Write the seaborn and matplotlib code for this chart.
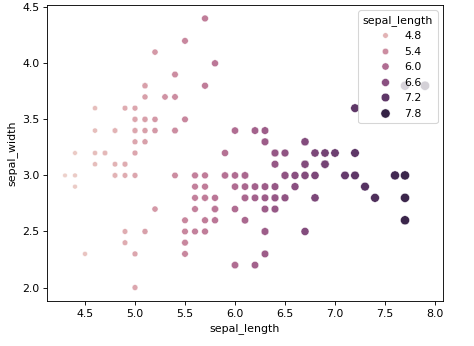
import matplotlib
matplotlib.use("Agg")
import matplotlib.pyplot as plt
import seaborn as sns
import pandas as pd

sepal_length = [
    5.1, 4.9, 4.7, 4.6, 5.0, 5.4, 4.6, 5.0, 4.4, 4.9,
    5.4, 4.8, 4.8, 4.3, 5.8, 5.7, 5.4, 5.1, 5.7, 5.1,
    5.4, 5.1, 4.6, 5.1, 4.8, 5.0, 5.0, 5.2, 5.2, 4.7,
    4.8, 5.4, 5.2, 5.5, 4.9, 5.0, 5.5, 4.9, 4.4, 5.1,
    5.0, 4.5, 4.4, 5.0, 5.1, 4.8, 5.1, 4.6, 5.3, 5.0,
    7.0, 6.4, 6.9, 5.5, 6.5, 5.7, 6.3, 4.9, 6.6, 5.2,
    5.0, 5.9, 6.0, 6.1, 5.6, 6.7, 5.6, 5.8, 6.2, 5.6,
    5.9, 6.1, 6.3, 6.1, 6.4, 6.6, 6.8, 6.7, 6.0, 5.7,
    5.5, 5.5, 5.8, 6.0, 5.4, 6.0, 6.7, 6.3, 5.6, 5.5,
    5.5, 6.1, 5.8, 5.0, 5.6, 5.7, 5.7, 6.2, 5.1, 5.7,
    6.3, 5.8, 7.1, 6.3, 6.5, 7.6, 4.9, 7.3, 6.7, 7.2,
    6.5, 6.4, 6.8, 5.7, 5.8, 6.4, 6.5, 7.7, 7.7, 6.0,
    6.9, 5.6, 7.7, 6.3, 6.7, 7.2, 6.2, 6.1, 6.4, 7.2,
    7.4, 7.9, 6.4, 6.3, 6.1, 7.7, 6.3, 6.4, 6.0, 6.9,
    6.7, 6.9, 5.8, 6.8, 6.7, 6.7, 6.3, 6.5, 6.2, 5.9,
]
sepal_width = [
    3.5, 3.0, 3.2, 3.1, 3.6, 3.9, 3.4, 3.4, 2.9, 3.1,
    3.7, 3.4, 3.0, 3.0, 4.0, 4.4, 3.9, 3.5, 3.8, 3.8,
    3.4, 3.7, 3.6, 3.3, 3.4, 3.0, 3.4, 3.5, 3.4, 3.2,
    3.1, 3.4, 4.1, 4.2, 3.1, 3.2, 3.5, 3.6, 3.0, 3.4,
    3.5, 2.3, 3.2, 3.5, 3.8, 3.0, 3.8, 3.2, 3.7, 3.3,
    3.2, 3.2, 3.1, 2.3, 2.8, 2.8, 3.3, 2.4, 2.9, 2.7,
    2.0, 3.0, 2.2, 2.9, 2.9, 3.1, 3.0, 2.7, 2.2, 2.5,
    3.2, 2.8, 2.5, 2.8, 2.9, 3.0, 2.8, 3.0, 2.9, 2.6,
    2.4, 2.4, 2.7, 2.7, 3.0, 3.4, 3.1, 2.3, 3.0, 2.5,
    2.6, 3.0, 2.6, 2.3, 2.7, 3.0, 2.9, 2.9, 2.5, 2.8,
    3.3, 2.7, 3.0, 2.9, 3.0, 3.0, 2.5, 2.9, 2.5, 3.6,
    3.2, 2.7, 3.0, 2.5, 2.8, 3.2, 3.0, 3.8, 2.6, 2.2,
    3.2, 2.8, 2.8, 2.7, 3.3, 3.2, 2.8, 3.0, 2.8, 3.0,
    2.8, 3.8, 2.8, 2.8, 2.6, 3.0, 3.4, 3.1, 3.0, 3.1,
    3.1, 3.1, 2.7, 3.2, 3.3, 3.0, 2.5, 3.0, 3.4, 3.0,
]

df = pd.DataFrame({"sepal_length": sepal_length, "sepal_width": sepal_width})

dpi = 79
fig = plt.figure(figsize=(474 / dpi, 346 / dpi), dpi=dpi)
ax = fig.add_axes([47 / 474, 1 - 301 / 346, (443 - 47) / 474, (301 - 5) / 346])

sns.scatterplot(
    data=df, x="sepal_length", y="sepal_width",
    hue="sepal_length", size="sepal_length", ax=ax,
)
sns.move_legend(ax, "upper right")

fig.savefig("out.png", dpi=dpi)
